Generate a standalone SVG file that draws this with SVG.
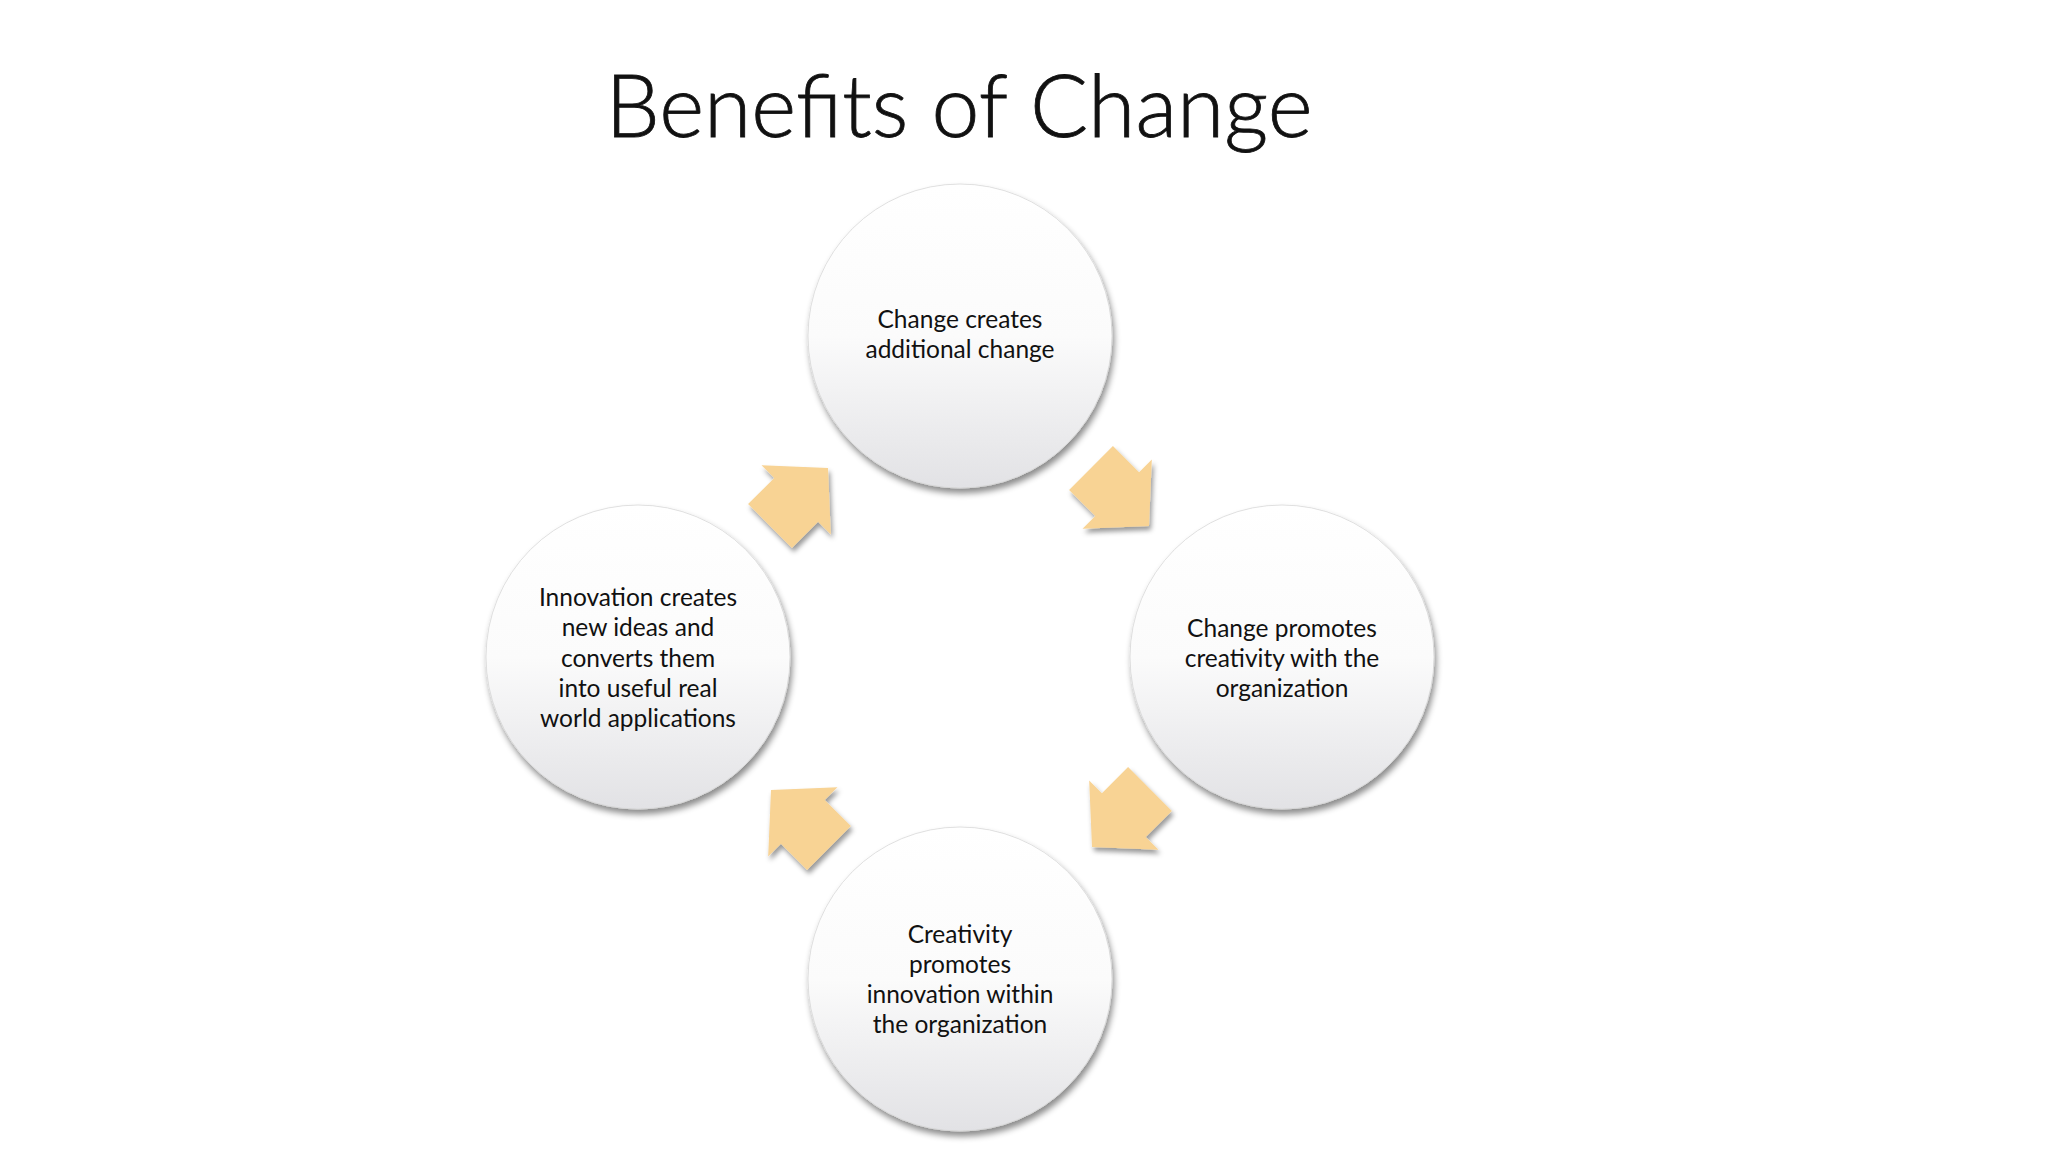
<svg xmlns="http://www.w3.org/2000/svg" width="2048" height="1152" viewBox="0 0 2048 1152">
<defs>
<linearGradient id="circGrad" x1="0" y1="0" x2="0" y2="1">
<stop offset="0" stop-color="#ffffff"/>
<stop offset="0.5" stop-color="#fbfbfb"/>
<stop offset="1" stop-color="#e2e2e5"/>
</linearGradient>
<filter id="circShadow" x="-20%" y="-20%" width="140%" height="140%">
<feDropShadow dx="2" dy="5" stdDeviation="3" flood-color="#000" flood-opacity="0.45"/>
</filter>
<filter id="arrShadow" x="-30%" y="-30%" width="160%" height="160%">
<feDropShadow dx="2" dy="4" stdDeviation="2.5" flood-color="#000" flood-opacity="0.4"/>
</filter>
<polygon id="arrowShape" points="-41,-31 -4,-31 -4,-49 41,0 -4,49 -4,31 -41,31"/>
</defs>
<style>
.circle { fill: url(#circGrad); stroke: #d8d8d8; stroke-width: 0.8; filter: url(#circShadow); }
.label { font-family: Lato, "Open Sans", "Liberation Sans", sans-serif; font-size: 24.5px; fill: #111; text-anchor: middle; }
.title { font-family: Lato, "Open Sans", "Liberation Sans", sans-serif; font-size: 86px; font-weight: 300; fill: #111; stroke: #111; stroke-width: 0.8; text-anchor: middle; }
.arrow { fill: #f8d394; }
</style>
<rect width="2048" height="1152" fill="#ffffff"/>
<text class="title" x="959" y="137">Benefits of Change</text>

<g id="connectors">
<g filter="url(#arrShadow)"><g transform="translate(1120,497) rotate(45)"><use href="#arrowShape" class="arrow"/></g></g>
<g filter="url(#arrShadow)"><g transform="translate(1121,818) rotate(135)"><use href="#arrowShape" class="arrow"/></g></g>
<g filter="url(#arrShadow)"><g transform="translate(800,819) rotate(225)"><use href="#arrowShape" class="arrow"/></g></g>
<g filter="url(#arrShadow)"><g transform="translate(799,497) rotate(315)"><use href="#arrowShape" class="arrow"/></g></g>
</g>

<g id="node-top">
<circle class="circle" cx="960" cy="336" r="152"/>
<text class="label" x="960" y="328">Change creates</text>
<text class="label" x="960" y="358">additional change</text>
</g>
<g id="node-right">
<circle class="circle" cx="1282" cy="657" r="152"/>
<text class="label" x="1282" y="637">Change promotes</text>
<text class="label" x="1282" y="667">creativity with the</text>
<text class="label" x="1282" y="697">organization</text>
</g>
<g id="node-bottom">
<circle class="circle" cx="960" cy="979" r="152"/>
<text class="label" x="960" y="943">Creativity</text>
<text class="label" x="960" y="973">promotes</text>
<text class="label" x="960" y="1003">innovation within</text>
<text class="label" x="960" y="1033">the organization</text>
</g>
<g id="node-left">
<circle class="circle" cx="638" cy="657" r="152"/>
<text class="label" x="638" y="606">Innovation creates</text>
<text class="label" x="638" y="636">new ideas and</text>
<text class="label" x="638" y="667">converts them</text>
<text class="label" x="638" y="697">into useful real</text>
<text class="label" x="638" y="727">world applications</text>
</g>
</svg>
